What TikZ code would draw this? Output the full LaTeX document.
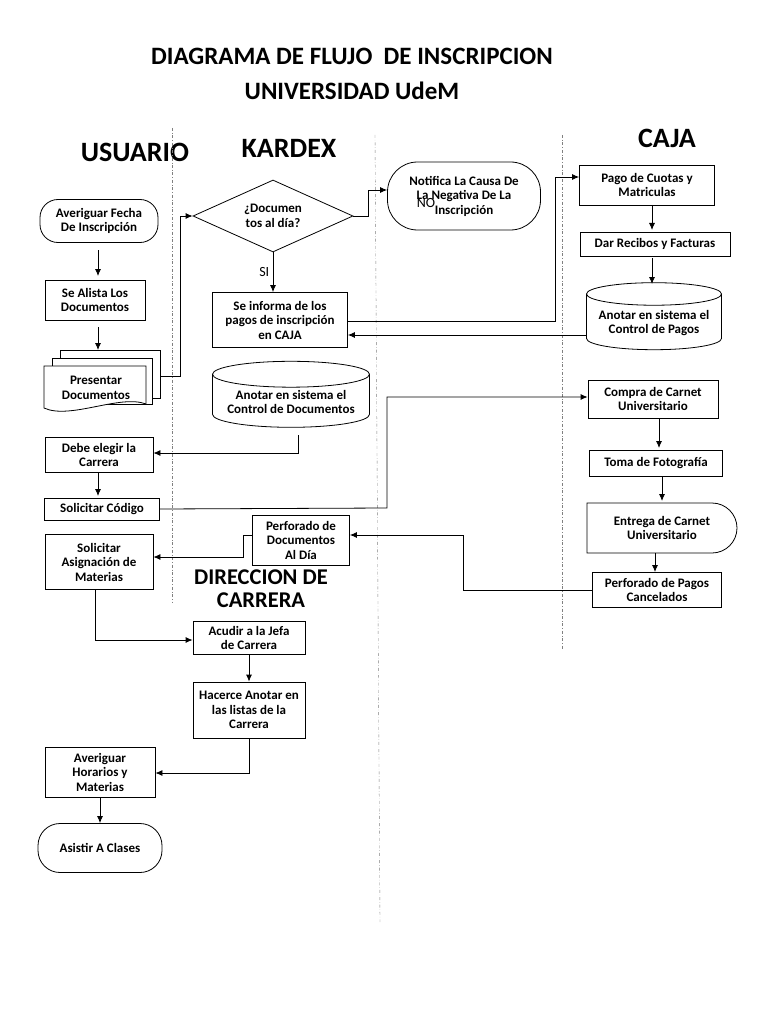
\documentclass[tikz,border=0pt]{standalone}
\usepackage{fontspec}
\setmainfont{Carlito}
\usetikzlibrary{arrows.meta,shapes.geometric,shapes.misc}
\begin{document}
\begin{tikzpicture}[x=1pt,y=-1pt,
 tf/.style={font=\bfseries\fontsize{13}{14.5}\selectfont},
 box/.style={draw,thick,align=center,tf,inner sep=1pt},
 arr/.style={thick,-{Latex[length=7pt,width=6pt]}},
 lane/.style={gray,dash dot,thin},
 hd/.style={font=\bfseries\fontsize{28}{30}\selectfont}]
\useasboundingbox (0,0) rectangle (768,1024);
\node[font=\bfseries\fontsize{25}{28}\selectfont] (t1) at (352,56) {DIAGRAMA DE FLUJO \ DE INSCRIPCION};
\node[font=\bfseries\fontsize{25}{28}\selectfont] (t2) at (352,91) {UNIVERSIDAD UdeM};
\node[hd] (h1) at (135,152) {USUARIO};
\node[hd] (h2) at (289,148) {KARDEX};
\node[hd] (h3) at (667,138) {CAJA};
\node[align=center,font=\bfseries\fontsize{22.5}{23}\selectfont] (h4) at (261,589) {DIRECCION DE\\CARRERA};
\draw[lane] (172,128)--(172,602);
\draw[lane] (375,135)--(380,922);
\draw[lane] (562,135)--(562,650);
% usuario
\node[box,rounded corners=18pt,minimum width=118,minimum height=43] (a1) at (99,221) {Averiguar Fecha\\De Inscripción};
\node[box,minimum width=100,minimum height=40] (a2) at (95,300) {Se Alista Los\\Documentos};
\draw[thick,fill=white] (60,350) rectangle (160,398);
\draw[thick,fill=white] (52,358) rectangle (152,404);
\draw[thick,fill=white] (44,366) -- (146,366) -- (146,404) .. controls (120,394) and (70,420) .. (44,408) -- cycle;
\node[tf,align=center] (a3) at (96,388) {Presentar\\Documentos};
\coordinate (a3r) at (160,376);
\node[box,minimum width=108,minimum height=35] (a4) at (99,455) {Debe elegir la\\Carrera};
\node[box,minimum width=115,minimum height=22] (a5) at (102,509) {Solicitar Código};
\node[box,minimum width=108,minimum height=55] (a6) at (99,562) {Solicitar\\Asignación de\\Materias};
\node[box,minimum width=110,minimum height=50] (a7) at (100,772) {Averiguar\\Horarios y\\Materias};
\node[box,rounded corners=22pt,minimum width=124,minimum height=49] (a8) at (100,848) {Asistir A Clases};
% kardex
\node[draw,thick,diamond,aspect=2.2,minimum width=160,minimum height=72,align=center,tf,inner sep=0pt] (k1) at (273,216) {¿Documen\\tos al día?};
\node[box,minimum width=135,minimum height=55] (k2) at (280,320) {Se informa de los\\pagos de inscripción\\en CAJA};
\node[box,cylinder,shape border rotate=90,aspect=0.2,minimum width=157,minimum height=66] (k3) at (291,402) {Anotar en sistema el\\Control de Documentos};
\node[box,rounded corners=30pt,minimum width=153,minimum height=68] (k4) at (464,196) {Notifica La Causa De\\La Negativa De La\\Inscripción};
% direccion
\node[box,minimum width=97,minimum height=50] (d0) at (301,540) {Perforado de\\Documentos\\Al Día};
\node[box,minimum width=112,minimum height=33] (d1) at (249,638) {Acudir a la Jefa\\de Carrera};
\node[box,minimum width=112,minimum height=56] (d2) at (249,710) {Hacerce Anotar en\\las listas de la\\Carrera};
% caja
\node[box,minimum width=135,minimum height=40] (c1) at (647,185) {Pago de Cuotas y\\Matriculas};
\node[box,minimum width=150,minimum height=24] (c2) at (655,244) {Dar Recibos y Facturas};
\node[box,cylinder,shape border rotate=90,aspect=0.2,minimum width=135,minimum height=67] (c3) at (654,323) {Anotar en sistema el\\Control de Pagos};
\node[box,minimum width=130,minimum height=38] (c4) at (653,399) {Compra de Carnet\\Universitario};
\node[box,minimum width=133,minimum height=26] (c5) at (656,463) {Toma de Fotografía};
\draw[thick] (587,503) -- (712,503) arc (-90:90:25) -- (587,553) -- cycle;
\node[tf,align=center] (c6) at (662,528) {Entrega de Carnet\\Universitario};
\node[box,minimum width=129,minimum height=35] (c7) at (657,590) {Perforado de Pagos\\Cancelados};
% connectors
\draw[arr] (98,250) -- (98,276);
\draw[arr] (98,327) -- (98,350);
\draw[arr] (a3r) -- (180,376) -- (180,216) -- (k1.west);
\draw[arr] (k1.south) -- (k1.south|-k2.north) node[pos=0.5,left,font=\fontsize{14}{16}\selectfont] {SI};
\draw[arr] (k1.east) -- (368,216) -- (368,190) -- (k4.west|-0,190);
\node[font=\fontsize{14}{16}\selectfont] (no) at (426,203) {NO};
\draw[arr] (k2.east|-0,321) -- (555,321) -- (555,177) -- (c1.west|-0,177);
\draw[arr] (c3.west|-0,335) -- (k2.east|-0,335);
\draw[arr] (298,435) -- (298,453) -- (a4.east|-0,453);
\draw[arr] (98,472) -- (98,496);
\draw[arr] (a5.east) -- (387,508) -- (387,397) -- (c4.west|-0,397);
\draw[arr] (652,205) -- (652,230);
\draw[arr] (652,258) -- (652,284);
\draw[arr] (659,418) -- (659,448);
\draw[arr] (662,476) -- (662,501);
\draw[arr] (655,553) -- (655,572);
\draw[arr] (c7.west) -- (463,590) -- (463,535) -- (d0.east|-0,535);
\draw[arr] (d0.west|-0,535) -- (243,535) -- (243,557) -- (a6.east|-0,557);
\draw[arr] (95,590) -- (95,640) -- (d1.west|-0,640);
\draw[arr] (d1.south) -- (d2.north);
\draw[arr] (249,738) -- (249,773) -- (a7.east|-0,773);
\draw[arr] (a7.south) -- (a8.north);
\end{tikzpicture}
\end{document}
